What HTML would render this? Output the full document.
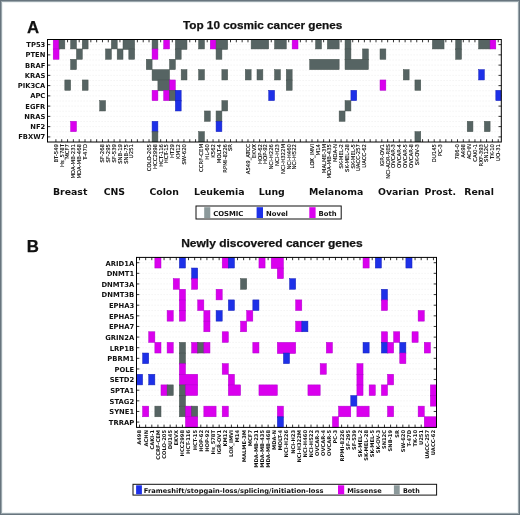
<!DOCTYPE html>
<html><head><meta charset="utf-8"><title>Cancer genes heatmap</title>
<style>html,body{margin:0;padding:0;background:#fff;}body{width:520px;height:515px;overflow:hidden;}svg{display:block;}</style></head><body>
<svg width="520" height="515" viewBox="0 0 520 515">
<rect x="0" y="0" width="520" height="515" fill="#ffffff"/>
<g stroke="#eeeeee" stroke-width="0.8" stroke-dasharray="1.2 1.8"><line x1="47.5" y1="39.5" x2="501.3" y2="39.5"/><line x1="47.5" y1="44.62" x2="501.3" y2="44.62"/><line x1="47.5" y1="49.75" x2="501.3" y2="49.75"/><line x1="47.5" y1="54.88" x2="501.3" y2="54.88"/><line x1="47.5" y1="60" x2="501.3" y2="60"/><line x1="47.5" y1="65.12" x2="501.3" y2="65.12"/><line x1="47.5" y1="70.25" x2="501.3" y2="70.25"/><line x1="47.5" y1="75.38" x2="501.3" y2="75.38"/><line x1="47.5" y1="80.5" x2="501.3" y2="80.5"/><line x1="47.5" y1="85.62" x2="501.3" y2="85.62"/><line x1="47.5" y1="90.75" x2="501.3" y2="90.75"/><line x1="47.5" y1="95.88" x2="501.3" y2="95.88"/><line x1="47.5" y1="101" x2="501.3" y2="101"/><line x1="47.5" y1="106.12" x2="501.3" y2="106.12"/><line x1="47.5" y1="111.25" x2="501.3" y2="111.25"/><line x1="47.5" y1="116.38" x2="501.3" y2="116.38"/><line x1="47.5" y1="121.5" x2="501.3" y2="121.5"/><line x1="47.5" y1="126.62" x2="501.3" y2="126.62"/><line x1="47.5" y1="131.75" x2="501.3" y2="131.75"/><line x1="47.5" y1="136.88" x2="501.3" y2="136.88"/><line x1="47.5" y1="142" x2="501.3" y2="142"/></g>
<g stroke="#eeeeee" stroke-width="0.8" stroke-dasharray="1.2 1.8"><line x1="136.5" y1="257.4" x2="436.5" y2="257.4"/><line x1="136.5" y1="262.71" x2="436.5" y2="262.71"/><line x1="136.5" y1="268.02" x2="436.5" y2="268.02"/><line x1="136.5" y1="273.34" x2="436.5" y2="273.34"/><line x1="136.5" y1="278.65" x2="436.5" y2="278.65"/><line x1="136.5" y1="283.96" x2="436.5" y2="283.96"/><line x1="136.5" y1="289.27" x2="436.5" y2="289.27"/><line x1="136.5" y1="294.59" x2="436.5" y2="294.59"/><line x1="136.5" y1="299.9" x2="436.5" y2="299.9"/><line x1="136.5" y1="305.21" x2="436.5" y2="305.21"/><line x1="136.5" y1="310.52" x2="436.5" y2="310.52"/><line x1="136.5" y1="315.84" x2="436.5" y2="315.84"/><line x1="136.5" y1="321.15" x2="436.5" y2="321.15"/><line x1="136.5" y1="326.46" x2="436.5" y2="326.46"/><line x1="136.5" y1="331.77" x2="436.5" y2="331.77"/><line x1="136.5" y1="337.09" x2="436.5" y2="337.09"/><line x1="136.5" y1="342.4" x2="436.5" y2="342.4"/><line x1="136.5" y1="347.71" x2="436.5" y2="347.71"/><line x1="136.5" y1="353.02" x2="436.5" y2="353.02"/><line x1="136.5" y1="358.34" x2="436.5" y2="358.34"/><line x1="136.5" y1="363.65" x2="436.5" y2="363.65"/><line x1="136.5" y1="368.96" x2="436.5" y2="368.96"/><line x1="136.5" y1="374.27" x2="436.5" y2="374.27"/><line x1="136.5" y1="379.59" x2="436.5" y2="379.59"/><line x1="136.5" y1="384.9" x2="436.5" y2="384.9"/><line x1="136.5" y1="390.21" x2="436.5" y2="390.21"/><line x1="136.5" y1="395.52" x2="436.5" y2="395.52"/><line x1="136.5" y1="400.84" x2="436.5" y2="400.84"/><line x1="136.5" y1="406.15" x2="436.5" y2="406.15"/><line x1="136.5" y1="411.46" x2="436.5" y2="411.46"/><line x1="136.5" y1="416.77" x2="436.5" y2="416.77"/><line x1="136.5" y1="422.09" x2="436.5" y2="422.09"/><line x1="136.5" y1="427.4" x2="436.5" y2="427.4"/></g>
<path d="M55.91 39.5v2.8M55.91 142v-2.8M61.73 39.5v2.8M61.73 142v-2.8M67.55 39.5v2.8M67.55 142v-2.8M73.37 39.5v2.8M73.37 142v-2.8M79.19 39.5v2.8M79.19 142v-2.8M85.01 39.5v2.8M85.01 142v-2.8M90.83 39.5v2.8M90.83 142v-2.8M96.65 39.5v2.8M96.65 142v-2.8M102.47 39.5v2.8M102.47 142v-2.8M108.29 39.5v2.8M108.29 142v-2.8M114.11 39.5v2.8M114.11 142v-2.8M119.93 39.5v2.8M119.93 142v-2.8M125.75 39.5v2.8M125.75 142v-2.8M131.57 39.5v2.8M131.57 142v-2.8M137.39 39.5v2.8M137.39 142v-2.8M143.21 39.5v2.8M143.21 142v-2.8M149.03 39.5v2.8M149.03 142v-2.8M154.85 39.5v2.8M154.85 142v-2.8M160.67 39.5v2.8M160.67 142v-2.8M166.49 39.5v2.8M166.49 142v-2.8M172.31 39.5v2.8M172.31 142v-2.8M178.13 39.5v2.8M178.13 142v-2.8M183.95 39.5v2.8M183.95 142v-2.8M189.77 39.5v2.8M189.77 142v-2.8M195.59 39.5v2.8M195.59 142v-2.8M201.41 39.5v2.8M201.41 142v-2.8M207.23 39.5v2.8M207.23 142v-2.8M213.05 39.5v2.8M213.05 142v-2.8M218.87 39.5v2.8M218.87 142v-2.8M224.69 39.5v2.8M224.69 142v-2.8M230.51 39.5v2.8M230.51 142v-2.8M236.33 39.5v2.8M236.33 142v-2.8M242.15 39.5v2.8M242.15 142v-2.8M247.97 39.5v2.8M247.97 142v-2.8M253.79 39.5v2.8M253.79 142v-2.8M259.61 39.5v2.8M259.61 142v-2.8M265.43 39.5v2.8M265.43 142v-2.8M271.25 39.5v2.8M271.25 142v-2.8M277.07 39.5v2.8M277.07 142v-2.8M282.89 39.5v2.8M282.89 142v-2.8M288.71 39.5v2.8M288.71 142v-2.8M294.53 39.5v2.8M294.53 142v-2.8M300.35 39.5v2.8M300.35 142v-2.8M306.17 39.5v2.8M306.17 142v-2.8M311.99 39.5v2.8M311.99 142v-2.8M317.81 39.5v2.8M317.81 142v-2.8M323.63 39.5v2.8M323.63 142v-2.8M329.45 39.5v2.8M329.45 142v-2.8M335.27 39.5v2.8M335.27 142v-2.8M341.09 39.5v2.8M341.09 142v-2.8M346.91 39.5v2.8M346.91 142v-2.8M352.73 39.5v2.8M352.73 142v-2.8M358.55 39.5v2.8M358.55 142v-2.8M364.37 39.5v2.8M364.37 142v-2.8M370.19 39.5v2.8M370.19 142v-2.8M376.01 39.5v2.8M376.01 142v-2.8M381.83 39.5v2.8M381.83 142v-2.8M387.65 39.5v2.8M387.65 142v-2.8M393.47 39.5v2.8M393.47 142v-2.8M399.29 39.5v2.8M399.29 142v-2.8M405.11 39.5v2.8M405.11 142v-2.8M410.93 39.5v2.8M410.93 142v-2.8M416.75 39.5v2.8M416.75 142v-2.8M422.57 39.5v2.8M422.57 142v-2.8M428.39 39.5v2.8M428.39 142v-2.8M434.21 39.5v2.8M434.21 142v-2.8M440.03 39.5v2.8M440.03 142v-2.8M445.85 39.5v2.8M445.85 142v-2.8M451.67 39.5v2.8M451.67 142v-2.8M457.49 39.5v2.8M457.49 142v-2.8M463.31 39.5v2.8M463.31 142v-2.8M469.13 39.5v2.8M469.13 142v-2.8M474.95 39.5v2.8M474.95 142v-2.8M480.77 39.5v2.8M480.77 142v-2.8M486.59 39.5v2.8M486.59 142v-2.8M492.41 39.5v2.8M492.41 142v-2.8M498.23 39.5v2.8M498.23 142v-2.8M47.5 44.62h2.8M501.3 44.62h-2.8M47.5 54.88h2.8M501.3 54.88h-2.8M47.5 65.12h2.8M501.3 65.12h-2.8M47.5 75.38h2.8M501.3 75.38h-2.8M47.5 85.62h2.8M501.3 85.62h-2.8M47.5 95.88h2.8M501.3 95.88h-2.8M47.5 106.12h2.8M501.3 106.12h-2.8M47.5 116.38h2.8M501.3 116.38h-2.8M47.5 126.62h2.8M501.3 126.62h-2.8M47.5 136.88h2.8M501.3 136.88h-2.8" stroke="#111" stroke-width="0.85" fill="none"/>
<path d="M139.56 257.4v2.8M139.56 427.4v-2.8M145.68 257.4v2.8M145.68 427.4v-2.8M151.81 257.4v2.8M151.81 427.4v-2.8M157.93 257.4v2.8M157.93 427.4v-2.8M164.05 257.4v2.8M164.05 427.4v-2.8M170.17 257.4v2.8M170.17 427.4v-2.8M176.3 257.4v2.8M176.3 427.4v-2.8M182.42 257.4v2.8M182.42 427.4v-2.8M188.54 257.4v2.8M188.54 427.4v-2.8M194.66 257.4v2.8M194.66 427.4v-2.8M200.79 257.4v2.8M200.79 427.4v-2.8M206.91 257.4v2.8M206.91 427.4v-2.8M213.03 257.4v2.8M213.03 427.4v-2.8M219.15 257.4v2.8M219.15 427.4v-2.8M225.28 257.4v2.8M225.28 427.4v-2.8M231.4 257.4v2.8M231.4 427.4v-2.8M237.52 257.4v2.8M237.52 427.4v-2.8M243.64 257.4v2.8M243.64 427.4v-2.8M249.77 257.4v2.8M249.77 427.4v-2.8M255.89 257.4v2.8M255.89 427.4v-2.8M262.01 257.4v2.8M262.01 427.4v-2.8M268.13 257.4v2.8M268.13 427.4v-2.8M274.26 257.4v2.8M274.26 427.4v-2.8M280.38 257.4v2.8M280.38 427.4v-2.8M286.5 257.4v2.8M286.5 427.4v-2.8M292.62 257.4v2.8M292.62 427.4v-2.8M298.74 257.4v2.8M298.74 427.4v-2.8M304.87 257.4v2.8M304.87 427.4v-2.8M310.99 257.4v2.8M310.99 427.4v-2.8M317.11 257.4v2.8M317.11 427.4v-2.8M323.23 257.4v2.8M323.23 427.4v-2.8M329.36 257.4v2.8M329.36 427.4v-2.8M335.48 257.4v2.8M335.48 427.4v-2.8M341.6 257.4v2.8M341.6 427.4v-2.8M347.72 257.4v2.8M347.72 427.4v-2.8M353.85 257.4v2.8M353.85 427.4v-2.8M359.97 257.4v2.8M359.97 427.4v-2.8M366.09 257.4v2.8M366.09 427.4v-2.8M372.21 257.4v2.8M372.21 427.4v-2.8M378.34 257.4v2.8M378.34 427.4v-2.8M384.46 257.4v2.8M384.46 427.4v-2.8M390.58 257.4v2.8M390.58 427.4v-2.8M396.7 257.4v2.8M396.7 427.4v-2.8M402.83 257.4v2.8M402.83 427.4v-2.8M408.95 257.4v2.8M408.95 427.4v-2.8M415.07 257.4v2.8M415.07 427.4v-2.8M421.19 257.4v2.8M421.19 427.4v-2.8M427.32 257.4v2.8M427.32 427.4v-2.8M433.44 257.4v2.8M433.44 427.4v-2.8M136.5 262.71h2.8M436.5 262.71h-2.8M136.5 273.34h2.8M436.5 273.34h-2.8M136.5 283.96h2.8M436.5 283.96h-2.8M136.5 294.59h2.8M436.5 294.59h-2.8M136.5 305.21h2.8M436.5 305.21h-2.8M136.5 315.84h2.8M436.5 315.84h-2.8M136.5 326.46h2.8M436.5 326.46h-2.8M136.5 337.09h2.8M436.5 337.09h-2.8M136.5 347.71h2.8M436.5 347.71h-2.8M136.5 358.34h2.8M436.5 358.34h-2.8M136.5 368.96h2.8M436.5 368.96h-2.8M136.5 379.59h2.8M436.5 379.59h-2.8M136.5 390.21h2.8M436.5 390.21h-2.8M136.5 400.84h2.8M436.5 400.84h-2.8M136.5 411.46h2.8M436.5 411.46h-2.8M136.5 422.09h2.8M436.5 422.09h-2.8" stroke="#111" stroke-width="0.85" fill="none"/>
<defs><clipPath id="ca"><rect x="47.5" y="39.5" width="453.8" height="102.5"/></clipPath></defs>
<g clip-path="url(#ca)">
<rect x="53.2" y="38.6" width="6.32" height="10.84" fill="#da00ee" stroke="#b000cc" stroke-width="0.5"/>
<rect x="59.02" y="38.6" width="5.82" height="10.34" fill="#566463" stroke="#46524f" stroke-width="0.5"/>
<rect x="70.65" y="38.6" width="5.82" height="10.34" fill="#566463" stroke="#46524f" stroke-width="0.5"/>
<rect x="82.28" y="38.6" width="5.82" height="10.34" fill="#566463" stroke="#46524f" stroke-width="0.5"/>
<rect x="111.37" y="38.6" width="5.82" height="10.34" fill="#566463" stroke="#46524f" stroke-width="0.5"/>
<rect x="123" y="38.6" width="11.63" height="10.84" fill="#566463" stroke="#46524f" stroke-width="0.5"/>
<rect x="152.08" y="38.6" width="5.82" height="10.84" fill="#566463" stroke="#46524f" stroke-width="0.5"/>
<rect x="163.72" y="38.6" width="5.82" height="10.34" fill="#da00ee" stroke="#b000cc" stroke-width="0.5"/>
<rect x="175.35" y="38.6" width="11.63" height="10.84" fill="#566463" stroke="#46524f" stroke-width="0.5"/>
<rect x="198.62" y="38.6" width="5.82" height="10.34" fill="#566463" stroke="#46524f" stroke-width="0.5"/>
<rect x="210.25" y="38.6" width="6.32" height="10.34" fill="#da00ee" stroke="#b000cc" stroke-width="0.5"/>
<rect x="216.07" y="38.6" width="11.63" height="10.84" fill="#566463" stroke="#46524f" stroke-width="0.5"/>
<rect x="251.14" y="38.6" width="17.58" height="10.34" fill="#566463" stroke="#46524f" stroke-width="0.5"/>
<rect x="274.57" y="38.6" width="11.72" height="10.34" fill="#566463" stroke="#46524f" stroke-width="0.5"/>
<rect x="292.15" y="38.6" width="5.86" height="10.34" fill="#da00ee" stroke="#b000cc" stroke-width="0.5"/>
<rect x="315.61" y="38.6" width="5.88" height="10.34" fill="#566463" stroke="#46524f" stroke-width="0.5"/>
<rect x="327.38" y="38.6" width="11.77" height="10.34" fill="#566463" stroke="#46524f" stroke-width="0.5"/>
<rect x="345.04" y="38.6" width="5.88" height="10.84" fill="#566463" stroke="#46524f" stroke-width="0.5"/>
<rect x="432.4" y="38.6" width="11.64" height="10.34" fill="#566463" stroke="#46524f" stroke-width="0.5"/>
<rect x="455.68" y="38.6" width="5.82" height="10.84" fill="#566463" stroke="#46524f" stroke-width="0.5"/>
<rect x="478.66" y="38.6" width="11.94" height="10.34" fill="#566463" stroke="#46524f" stroke-width="0.5"/>
<rect x="490.1" y="38.6" width="5.72" height="10.34" fill="#da00ee" stroke="#b000cc" stroke-width="0.5"/>
<rect x="53.2" y="48.94" width="5.82" height="10.34" fill="#da00ee" stroke="#b000cc" stroke-width="0.5"/>
<rect x="76.47" y="48.94" width="5.82" height="10.34" fill="#566463" stroke="#46524f" stroke-width="0.5"/>
<rect x="105.55" y="48.94" width="5.82" height="10.34" fill="#566463" stroke="#46524f" stroke-width="0.5"/>
<rect x="117.18" y="48.94" width="5.82" height="10.34" fill="#566463" stroke="#46524f" stroke-width="0.5"/>
<rect x="128.82" y="48.94" width="5.82" height="10.34" fill="#566463" stroke="#46524f" stroke-width="0.5"/>
<rect x="152.08" y="48.94" width="5.82" height="10.34" fill="#da00ee" stroke="#b000cc" stroke-width="0.5"/>
<rect x="175.35" y="48.94" width="5.82" height="10.34" fill="#566463" stroke="#46524f" stroke-width="0.5"/>
<rect x="216.07" y="48.94" width="5.82" height="10.34" fill="#566463" stroke="#46524f" stroke-width="0.5"/>
<rect x="345.04" y="48.94" width="5.88" height="10.84" fill="#566463" stroke="#46524f" stroke-width="0.5"/>
<rect x="362.56" y="48.94" width="5.82" height="10.84" fill="#566463" stroke="#46524f" stroke-width="0.5"/>
<rect x="380.02" y="48.94" width="5.82" height="10.34" fill="#566463" stroke="#46524f" stroke-width="0.5"/>
<rect x="455.68" y="48.94" width="5.82" height="10.34" fill="#566463" stroke="#46524f" stroke-width="0.5"/>
<rect x="70.65" y="59.28" width="5.82" height="10.34" fill="#566463" stroke="#46524f" stroke-width="0.5"/>
<rect x="146.27" y="59.28" width="5.82" height="10.34" fill="#566463" stroke="#46524f" stroke-width="0.5"/>
<rect x="169.53" y="59.28" width="5.82" height="10.34" fill="#566463" stroke="#46524f" stroke-width="0.5"/>
<rect x="309.73" y="59.28" width="29.42" height="10.34" fill="#566463" stroke="#46524f" stroke-width="0.5"/>
<rect x="345.04" y="59.28" width="23.34" height="10.34" fill="#566463" stroke="#46524f" stroke-width="0.5"/>
<rect x="152.08" y="69.62" width="17.45" height="10.84" fill="#566463" stroke="#46524f" stroke-width="0.5"/>
<rect x="181.17" y="69.62" width="5.82" height="10.34" fill="#566463" stroke="#46524f" stroke-width="0.5"/>
<rect x="198.62" y="69.62" width="5.82" height="10.34" fill="#566463" stroke="#46524f" stroke-width="0.5"/>
<rect x="221.88" y="69.62" width="5.82" height="10.34" fill="#566463" stroke="#46524f" stroke-width="0.5"/>
<rect x="245.28" y="69.62" width="5.86" height="10.34" fill="#566463" stroke="#46524f" stroke-width="0.5"/>
<rect x="257" y="69.62" width="5.86" height="10.34" fill="#566463" stroke="#46524f" stroke-width="0.5"/>
<rect x="274.57" y="69.62" width="5.86" height="10.34" fill="#566463" stroke="#46524f" stroke-width="0.5"/>
<rect x="286.29" y="69.62" width="5.86" height="10.84" fill="#566463" stroke="#46524f" stroke-width="0.5"/>
<rect x="403.3" y="69.62" width="5.82" height="10.34" fill="#566463" stroke="#46524f" stroke-width="0.5"/>
<rect x="478.66" y="69.62" width="5.72" height="10.34" fill="#1d30e8" stroke="#1822b8" stroke-width="0.5"/>
<rect x="64.83" y="79.96" width="5.82" height="10.34" fill="#566463" stroke="#46524f" stroke-width="0.5"/>
<rect x="82.28" y="79.96" width="5.82" height="10.34" fill="#566463" stroke="#46524f" stroke-width="0.5"/>
<rect x="157.9" y="79.96" width="12.13" height="10.84" fill="#566463" stroke="#46524f" stroke-width="0.5"/>
<rect x="169.53" y="79.96" width="5.82" height="10.84" fill="#da00ee" stroke="#b000cc" stroke-width="0.5"/>
<rect x="286.29" y="79.96" width="5.86" height="10.34" fill="#566463" stroke="#46524f" stroke-width="0.5"/>
<rect x="380.02" y="79.96" width="5.82" height="10.34" fill="#da00ee" stroke="#b000cc" stroke-width="0.5"/>
<rect x="414.94" y="79.96" width="5.82" height="10.34" fill="#566463" stroke="#46524f" stroke-width="0.5"/>
<rect x="152.08" y="90.3" width="5.82" height="10.34" fill="#da00ee" stroke="#b000cc" stroke-width="0.5"/>
<rect x="163.72" y="90.3" width="6.32" height="10.34" fill="#da00ee" stroke="#b000cc" stroke-width="0.5"/>
<rect x="169.53" y="90.3" width="6.32" height="10.34" fill="#566463" stroke="#46524f" stroke-width="0.5"/>
<rect x="175.35" y="90.3" width="5.82" height="10.84" fill="#1d30e8" stroke="#1822b8" stroke-width="0.5"/>
<rect x="268.72" y="90.3" width="5.86" height="10.34" fill="#1d30e8" stroke="#1822b8" stroke-width="0.5"/>
<rect x="350.92" y="90.3" width="5.82" height="10.34" fill="#1d30e8" stroke="#1822b8" stroke-width="0.5"/>
<rect x="495.82" y="90.3" width="5.72" height="10.34" fill="#1d30e8" stroke="#1822b8" stroke-width="0.5"/>
<rect x="99.73" y="100.64" width="5.82" height="10.34" fill="#566463" stroke="#46524f" stroke-width="0.5"/>
<rect x="175.35" y="100.64" width="5.82" height="10.34" fill="#1d30e8" stroke="#1822b8" stroke-width="0.5"/>
<rect x="221.88" y="100.64" width="5.82" height="10.34" fill="#566463" stroke="#46524f" stroke-width="0.5"/>
<rect x="345.04" y="100.64" width="5.88" height="10.34" fill="#566463" stroke="#46524f" stroke-width="0.5"/>
<rect x="204.43" y="110.98" width="5.82" height="10.34" fill="#566463" stroke="#46524f" stroke-width="0.5"/>
<rect x="216.07" y="110.98" width="5.82" height="10.84" fill="#566463" stroke="#46524f" stroke-width="0.5"/>
<rect x="339.15" y="110.98" width="5.88" height="10.34" fill="#566463" stroke="#46524f" stroke-width="0.5"/>
<rect x="70.65" y="121.32" width="5.82" height="10.34" fill="#da00ee" stroke="#b000cc" stroke-width="0.5"/>
<rect x="152.08" y="121.32" width="5.82" height="10.84" fill="#1d30e8" stroke="#1822b8" stroke-width="0.5"/>
<rect x="216.07" y="121.32" width="5.82" height="10.34" fill="#1d30e8" stroke="#1822b8" stroke-width="0.5"/>
<rect x="467.22" y="121.32" width="5.72" height="10.34" fill="#566463" stroke="#46524f" stroke-width="0.5"/>
<rect x="484.38" y="121.32" width="5.72" height="10.34" fill="#566463" stroke="#46524f" stroke-width="0.5"/>
<rect x="152.08" y="131.66" width="5.82" height="10.34" fill="#566463" stroke="#46524f" stroke-width="0.5"/>
<rect x="198.62" y="131.66" width="5.82" height="10.34" fill="#566463" stroke="#46524f" stroke-width="0.5"/>
<rect x="414.94" y="131.66" width="5.82" height="10.34" fill="#566463" stroke="#46524f" stroke-width="0.5"/>
</g>
<rect x="154.87" y="257.4" width="6.12" height="10.62" fill="#da00ee" stroke="#b000cc" stroke-width="0.5"/>
<rect x="179.36" y="257.4" width="6.12" height="10.62" fill="#1d30e8" stroke="#1822b8" stroke-width="0.5"/>
<rect x="222.21" y="257.4" width="6.62" height="10.62" fill="#da00ee" stroke="#b000cc" stroke-width="0.5"/>
<rect x="228.34" y="257.4" width="6.12" height="10.62" fill="#1d30e8" stroke="#1822b8" stroke-width="0.5"/>
<rect x="258.95" y="257.4" width="6.12" height="10.62" fill="#da00ee" stroke="#b000cc" stroke-width="0.5"/>
<rect x="271.19" y="257.4" width="12.24" height="11.12" fill="#da00ee" stroke="#b000cc" stroke-width="0.5"/>
<rect x="363.03" y="257.4" width="6.12" height="10.62" fill="#da00ee" stroke="#b000cc" stroke-width="0.5"/>
<rect x="375.28" y="257.4" width="6.12" height="10.62" fill="#1d30e8" stroke="#1822b8" stroke-width="0.5"/>
<rect x="405.89" y="257.4" width="6.12" height="10.62" fill="#1d30e8" stroke="#1822b8" stroke-width="0.5"/>
<rect x="191.6" y="268.02" width="6.12" height="11.12" fill="#1d30e8" stroke="#1822b8" stroke-width="0.5"/>
<rect x="277.32" y="268.02" width="6.12" height="10.62" fill="#da00ee" stroke="#b000cc" stroke-width="0.5"/>
<rect x="173.23" y="278.65" width="6.12" height="10.62" fill="#da00ee" stroke="#b000cc" stroke-width="0.5"/>
<rect x="191.6" y="278.65" width="6.12" height="10.62" fill="#da00ee" stroke="#b000cc" stroke-width="0.5"/>
<rect x="240.58" y="278.65" width="6.12" height="10.62" fill="#566463" stroke="#46524f" stroke-width="0.5"/>
<rect x="289.56" y="278.65" width="6.12" height="10.62" fill="#1d30e8" stroke="#1822b8" stroke-width="0.5"/>
<rect x="179.36" y="289.27" width="6.12" height="11.12" fill="#da00ee" stroke="#b000cc" stroke-width="0.5"/>
<rect x="216.09" y="289.27" width="6.12" height="10.62" fill="#da00ee" stroke="#b000cc" stroke-width="0.5"/>
<rect x="381.4" y="289.27" width="6.12" height="11.12" fill="#1d30e8" stroke="#1822b8" stroke-width="0.5"/>
<rect x="179.36" y="299.9" width="6.12" height="11.12" fill="#da00ee" stroke="#b000cc" stroke-width="0.5"/>
<rect x="197.72" y="299.9" width="6.12" height="10.62" fill="#da00ee" stroke="#b000cc" stroke-width="0.5"/>
<rect x="228.34" y="299.9" width="6.12" height="10.62" fill="#1d30e8" stroke="#1822b8" stroke-width="0.5"/>
<rect x="252.83" y="299.9" width="6.12" height="10.62" fill="#1d30e8" stroke="#1822b8" stroke-width="0.5"/>
<rect x="295.68" y="299.9" width="6.12" height="10.62" fill="#da00ee" stroke="#b000cc" stroke-width="0.5"/>
<rect x="381.4" y="299.9" width="6.12" height="10.62" fill="#da00ee" stroke="#b000cc" stroke-width="0.5"/>
<rect x="167.11" y="310.52" width="6.12" height="10.62" fill="#da00ee" stroke="#b000cc" stroke-width="0.5"/>
<rect x="179.36" y="310.52" width="6.12" height="10.62" fill="#da00ee" stroke="#b000cc" stroke-width="0.5"/>
<rect x="203.85" y="310.52" width="6.12" height="11.12" fill="#da00ee" stroke="#b000cc" stroke-width="0.5"/>
<rect x="216.09" y="310.52" width="6.12" height="10.62" fill="#1d30e8" stroke="#1822b8" stroke-width="0.5"/>
<rect x="246.7" y="310.52" width="6.12" height="10.62" fill="#da00ee" stroke="#b000cc" stroke-width="0.5"/>
<rect x="418.13" y="310.52" width="6.12" height="10.62" fill="#da00ee" stroke="#b000cc" stroke-width="0.5"/>
<rect x="203.85" y="321.15" width="6.12" height="10.62" fill="#da00ee" stroke="#b000cc" stroke-width="0.5"/>
<rect x="240.58" y="321.15" width="6.12" height="10.62" fill="#da00ee" stroke="#b000cc" stroke-width="0.5"/>
<rect x="295.68" y="321.15" width="6.62" height="10.62" fill="#da00ee" stroke="#b000cc" stroke-width="0.5"/>
<rect x="301.81" y="321.15" width="6.12" height="10.62" fill="#1d30e8" stroke="#1822b8" stroke-width="0.5"/>
<rect x="148.74" y="331.77" width="6.12" height="10.62" fill="#da00ee" stroke="#b000cc" stroke-width="0.5"/>
<rect x="222.21" y="331.77" width="6.12" height="10.62" fill="#da00ee" stroke="#b000cc" stroke-width="0.5"/>
<rect x="381.4" y="331.77" width="6.12" height="11.12" fill="#da00ee" stroke="#b000cc" stroke-width="0.5"/>
<rect x="393.64" y="331.77" width="6.12" height="10.62" fill="#da00ee" stroke="#b000cc" stroke-width="0.5"/>
<rect x="412.01" y="331.77" width="6.12" height="10.62" fill="#da00ee" stroke="#b000cc" stroke-width="0.5"/>
<rect x="154.87" y="342.4" width="6.12" height="10.62" fill="#da00ee" stroke="#b000cc" stroke-width="0.5"/>
<rect x="167.11" y="342.4" width="6.12" height="10.62" fill="#da00ee" stroke="#b000cc" stroke-width="0.5"/>
<rect x="179.36" y="342.4" width="6.12" height="11.12" fill="#566463" stroke="#46524f" stroke-width="0.5"/>
<rect x="191.6" y="342.4" width="6.62" height="10.62" fill="#da00ee" stroke="#b000cc" stroke-width="0.5"/>
<rect x="197.72" y="342.4" width="6.62" height="10.62" fill="#566463" stroke="#46524f" stroke-width="0.5"/>
<rect x="203.85" y="342.4" width="6.12" height="10.62" fill="#da00ee" stroke="#b000cc" stroke-width="0.5"/>
<rect x="252.83" y="342.4" width="6.12" height="10.62" fill="#da00ee" stroke="#b000cc" stroke-width="0.5"/>
<rect x="277.32" y="342.4" width="18.37" height="11.12" fill="#da00ee" stroke="#b000cc" stroke-width="0.5"/>
<rect x="326.3" y="342.4" width="6.12" height="10.62" fill="#da00ee" stroke="#b000cc" stroke-width="0.5"/>
<rect x="363.03" y="342.4" width="6.12" height="10.62" fill="#1d30e8" stroke="#1822b8" stroke-width="0.5"/>
<rect x="381.4" y="342.4" width="6.62" height="10.62" fill="#1d30e8" stroke="#1822b8" stroke-width="0.5"/>
<rect x="387.52" y="342.4" width="6.12" height="10.62" fill="#da00ee" stroke="#b000cc" stroke-width="0.5"/>
<rect x="399.77" y="342.4" width="6.12" height="11.12" fill="#1d30e8" stroke="#1822b8" stroke-width="0.5"/>
<rect x="424.26" y="342.4" width="6.12" height="10.62" fill="#da00ee" stroke="#b000cc" stroke-width="0.5"/>
<rect x="142.62" y="353.02" width="6.12" height="10.62" fill="#1d30e8" stroke="#1822b8" stroke-width="0.5"/>
<rect x="179.36" y="353.02" width="6.12" height="11.12" fill="#566463" stroke="#46524f" stroke-width="0.5"/>
<rect x="283.44" y="353.02" width="6.12" height="10.62" fill="#1d30e8" stroke="#1822b8" stroke-width="0.5"/>
<rect x="399.77" y="353.02" width="6.12" height="10.62" fill="#da00ee" stroke="#b000cc" stroke-width="0.5"/>
<rect x="179.36" y="363.65" width="6.12" height="11.12" fill="#da00ee" stroke="#b000cc" stroke-width="0.5"/>
<rect x="222.21" y="363.65" width="6.12" height="10.62" fill="#da00ee" stroke="#b000cc" stroke-width="0.5"/>
<rect x="320.17" y="363.65" width="6.12" height="10.62" fill="#da00ee" stroke="#b000cc" stroke-width="0.5"/>
<rect x="356.91" y="363.65" width="6.12" height="11.12" fill="#da00ee" stroke="#b000cc" stroke-width="0.5"/>
<rect x="136.5" y="374.27" width="6.12" height="10.62" fill="#1d30e8" stroke="#1822b8" stroke-width="0.5"/>
<rect x="148.74" y="374.27" width="6.12" height="10.62" fill="#1d30e8" stroke="#1822b8" stroke-width="0.5"/>
<rect x="179.36" y="374.27" width="18.37" height="11.12" fill="#da00ee" stroke="#b000cc" stroke-width="0.5"/>
<rect x="228.34" y="374.27" width="6.12" height="11.12" fill="#da00ee" stroke="#b000cc" stroke-width="0.5"/>
<rect x="356.91" y="374.27" width="6.12" height="11.12" fill="#da00ee" stroke="#b000cc" stroke-width="0.5"/>
<rect x="387.52" y="374.27" width="6.12" height="10.62" fill="#da00ee" stroke="#b000cc" stroke-width="0.5"/>
<rect x="160.99" y="384.9" width="6.62" height="10.62" fill="#da00ee" stroke="#b000cc" stroke-width="0.5"/>
<rect x="167.11" y="384.9" width="6.12" height="10.62" fill="#566463" stroke="#46524f" stroke-width="0.5"/>
<rect x="179.36" y="384.9" width="6.62" height="11.12" fill="#566463" stroke="#46524f" stroke-width="0.5"/>
<rect x="185.48" y="384.9" width="12.24" height="10.62" fill="#da00ee" stroke="#b000cc" stroke-width="0.5"/>
<rect x="228.34" y="384.9" width="12.24" height="10.62" fill="#da00ee" stroke="#b000cc" stroke-width="0.5"/>
<rect x="258.95" y="384.9" width="18.37" height="10.62" fill="#da00ee" stroke="#b000cc" stroke-width="0.5"/>
<rect x="307.93" y="384.9" width="12.24" height="10.62" fill="#da00ee" stroke="#b000cc" stroke-width="0.5"/>
<rect x="356.91" y="384.9" width="6.12" height="10.62" fill="#da00ee" stroke="#b000cc" stroke-width="0.5"/>
<rect x="369.15" y="384.9" width="6.12" height="10.62" fill="#da00ee" stroke="#b000cc" stroke-width="0.5"/>
<rect x="381.4" y="384.9" width="6.12" height="10.62" fill="#da00ee" stroke="#b000cc" stroke-width="0.5"/>
<rect x="430.38" y="384.9" width="6.12" height="11.12" fill="#da00ee" stroke="#b000cc" stroke-width="0.5"/>
<rect x="179.36" y="395.52" width="6.12" height="11.12" fill="#566463" stroke="#46524f" stroke-width="0.5"/>
<rect x="350.79" y="395.52" width="6.12" height="10.62" fill="#1d30e8" stroke="#1822b8" stroke-width="0.5"/>
<rect x="430.38" y="395.52" width="6.12" height="10.62" fill="#da00ee" stroke="#b000cc" stroke-width="0.5"/>
<rect x="142.62" y="406.15" width="6.12" height="10.62" fill="#da00ee" stroke="#b000cc" stroke-width="0.5"/>
<rect x="154.87" y="406.15" width="6.12" height="10.62" fill="#566463" stroke="#46524f" stroke-width="0.5"/>
<rect x="179.36" y="406.15" width="6.62" height="10.62" fill="#566463" stroke="#46524f" stroke-width="0.5"/>
<rect x="185.48" y="406.15" width="6.62" height="11.12" fill="#da00ee" stroke="#b000cc" stroke-width="0.5"/>
<rect x="191.6" y="406.15" width="6.12" height="11.12" fill="#566463" stroke="#46524f" stroke-width="0.5"/>
<rect x="203.85" y="406.15" width="12.24" height="10.62" fill="#da00ee" stroke="#b000cc" stroke-width="0.5"/>
<rect x="222.21" y="406.15" width="6.12" height="10.62" fill="#da00ee" stroke="#b000cc" stroke-width="0.5"/>
<rect x="277.32" y="406.15" width="6.12" height="11.12" fill="#da00ee" stroke="#b000cc" stroke-width="0.5"/>
<rect x="338.54" y="406.15" width="12.24" height="10.62" fill="#da00ee" stroke="#b000cc" stroke-width="0.5"/>
<rect x="356.91" y="406.15" width="12.24" height="10.62" fill="#da00ee" stroke="#b000cc" stroke-width="0.5"/>
<rect x="387.52" y="406.15" width="6.12" height="10.62" fill="#da00ee" stroke="#b000cc" stroke-width="0.5"/>
<rect x="418.13" y="406.15" width="6.12" height="10.62" fill="#da00ee" stroke="#b000cc" stroke-width="0.5"/>
<rect x="185.48" y="416.77" width="12.24" height="10.62" fill="#da00ee" stroke="#b000cc" stroke-width="0.5"/>
<rect x="277.32" y="416.77" width="6.12" height="10.62" fill="#1d30e8" stroke="#1822b8" stroke-width="0.5"/>
<rect x="332.42" y="416.77" width="6.12" height="10.62" fill="#da00ee" stroke="#b000cc" stroke-width="0.5"/>
<rect x="424.26" y="416.77" width="12.24" height="10.62" fill="#da00ee" stroke="#b000cc" stroke-width="0.5"/>
<rect x="47.5" y="39.5" width="453.8" height="102.5" fill="none" stroke="#000" stroke-width="1"/>
<rect x="136.5" y="257.4" width="300" height="170" fill="none" stroke="#000" stroke-width="1"/>
<g style="font-family:'DejaVu Sans',sans-serif;font-weight:bold;font-size:6.75px" text-anchor="end" fill="#111">
<text x="45.3" y="47.02">TP53</text>
<text x="45.3" y="57.27">PTEN</text>
<text x="45.3" y="67.53">BRAF</text>
<text x="45.3" y="77.78">KRAS</text>
<text x="45.3" y="88.03">PIK3CA</text>
<text x="45.3" y="98.28">APC</text>
<text x="45.3" y="108.53">EGFR</text>
<text x="45.3" y="118.78">NRAS</text>
<text x="45.3" y="129.03">NF2</text>
<text x="45.3" y="139.28">FBXW7</text>
</g>
<g style="font-family:'DejaVu Sans',sans-serif;font-weight:bold;font-size:6.8px" text-anchor="end" fill="#111">
<text x="134.2" y="265.51">ARID1A</text>
<text x="134.2" y="276.14">DNMT1</text>
<text x="134.2" y="286.76">DNMT3A</text>
<text x="134.2" y="297.39">DNMT3B</text>
<text x="134.2" y="308.01">EPHA3</text>
<text x="134.2" y="318.64">EPHA5</text>
<text x="134.2" y="329.26">EPHA7</text>
<text x="134.2" y="339.89">GRIN2A</text>
<text x="134.2" y="350.51">LRP1B</text>
<text x="134.2" y="361.14">PBRM1</text>
<text x="134.2" y="371.76">POLE</text>
<text x="134.2" y="382.39">SETD2</text>
<text x="134.2" y="393.01">SPTA1</text>
<text x="134.2" y="403.64">STAG2</text>
<text x="134.2" y="414.26">SYNE1</text>
<text x="134.2" y="424.89">TRRAP</text>
</g>
<g style="font-family:'DejaVu Sans',sans-serif;font-size:5.35px" text-anchor="end" fill="#000" stroke="#000" stroke-width="0.12">
<text transform="translate(57.81 144) rotate(-90)">BT-549</text>
<text transform="translate(63.63 144) rotate(-90)">Hs_578T</text>
<text transform="translate(69.45 144) rotate(-90)">MCF7</text>
<text transform="translate(75.27 144) rotate(-90)">MDA-MB-231</text>
<text transform="translate(81.09 144) rotate(-90)">MDA-MB-468</text>
<text transform="translate(86.91 144) rotate(-90)">T-47D</text>
<text transform="translate(104.37 144) rotate(-90)">SF-268</text>
<text transform="translate(110.19 144) rotate(-90)">SF-295</text>
<text transform="translate(116.01 144) rotate(-90)">SF-539</text>
<text transform="translate(121.83 144) rotate(-90)">SNB-19</text>
<text transform="translate(127.65 144) rotate(-90)">SNB-75</text>
<text transform="translate(133.47 144) rotate(-90)">U251</text>
<text transform="translate(150.93 144) rotate(-90)">COLO-205</text>
<text transform="translate(156.75 144) rotate(-90)">HCC2998</text>
<text transform="translate(162.57 144) rotate(-90)">HCT-116</text>
<text transform="translate(168.39 144) rotate(-90)">HCT-15</text>
<text transform="translate(174.21 144) rotate(-90)">HT29</text>
<text transform="translate(180.03 144) rotate(-90)">KM12</text>
<text transform="translate(185.85 144) rotate(-90)">SW-620</text>
<text transform="translate(203.31 144) rotate(-90)">CCRF-CEM</text>
<text transform="translate(209.13 144) rotate(-90)">HL-60</text>
<text transform="translate(214.95 144) rotate(-90)">K562</text>
<text transform="translate(220.77 144) rotate(-90)">MOLT-4</text>
<text transform="translate(226.59 144) rotate(-90)">RPMI-8226</text>
<text transform="translate(232.41 144) rotate(-90)">SR</text>
<text transform="translate(249.87 144) rotate(-90)">A549_ATCC</text>
<text transform="translate(255.69 144) rotate(-90)">EKVX</text>
<text transform="translate(261.51 144) rotate(-90)">HOP-62</text>
<text transform="translate(267.33 144) rotate(-90)">HOP-92</text>
<text transform="translate(273.15 144) rotate(-90)">NCI-H226</text>
<text transform="translate(278.97 144) rotate(-90)">NCI-H23</text>
<text transform="translate(284.79 144) rotate(-90)">NCI-H322M</text>
<text transform="translate(290.61 144) rotate(-90)">NCI-H460</text>
<text transform="translate(296.43 144) rotate(-90)">NCI-H522</text>
<text transform="translate(313.89 144) rotate(-90)">LOX_IMVI</text>
<text transform="translate(319.71 144) rotate(-90)">M14</text>
<text transform="translate(325.53 144) rotate(-90)">MALME-3M</text>
<text transform="translate(331.35 144) rotate(-90)">MDA-MB-435</text>
<text transform="translate(337.17 144) rotate(-90)">MDA-N</text>
<text transform="translate(342.99 144) rotate(-90)">SK-MEL-2</text>
<text transform="translate(348.81 144) rotate(-90)">SK-MEL-28</text>
<text transform="translate(354.63 144) rotate(-90)">SK-MEL-5</text>
<text transform="translate(360.45 144) rotate(-90)">UACC-257</text>
<text transform="translate(366.27 144) rotate(-90)">UACC-62</text>
<text transform="translate(383.73 144) rotate(-90)">IGR-OV1</text>
<text transform="translate(389.55 144) rotate(-90)">NCI-ADR-RES</text>
<text transform="translate(395.37 144) rotate(-90)">OVCAR-3</text>
<text transform="translate(401.19 144) rotate(-90)">OVCAR-4</text>
<text transform="translate(407.01 144) rotate(-90)">OVCAR-5</text>
<text transform="translate(412.83 144) rotate(-90)">OVCAR-8</text>
<text transform="translate(418.65 144) rotate(-90)">SK-OV-3</text>
<text transform="translate(436.11 144) rotate(-90)">DU145</text>
<text transform="translate(441.93 144) rotate(-90)">PC-3</text>
<text transform="translate(459.39 144) rotate(-90)">786-0</text>
<text transform="translate(465.21 144) rotate(-90)">A498</text>
<text transform="translate(471.03 144) rotate(-90)">ACHN</text>
<text transform="translate(476.85 144) rotate(-90)">CAKI-1</text>
<text transform="translate(482.67 144) rotate(-90)">RXF-393</text>
<text transform="translate(488.49 144) rotate(-90)">SN12C</text>
<text transform="translate(494.31 144) rotate(-90)">TK-10</text>
<text transform="translate(500.13 144) rotate(-90)">UO-31</text>
</g>
<g style="font-family:'DejaVu Sans',sans-serif;font-weight:bold;font-size:5.2px" text-anchor="end" fill="#111">
<text transform="translate(141.46 430) rotate(-90)">A498</text>
<text transform="translate(147.58 430) rotate(-90)">ACHN</text>
<text transform="translate(153.71 430) rotate(-90)">CAKI-1</text>
<text transform="translate(159.83 430) rotate(-90)">CCRF-CEM</text>
<text transform="translate(165.95 430) rotate(-90)">COLO-205</text>
<text transform="translate(172.07 430) rotate(-90)">DU145</text>
<text transform="translate(178.2 430) rotate(-90)">EKVX</text>
<text transform="translate(184.32 430) rotate(-90)">HCC2998</text>
<text transform="translate(190.44 430) rotate(-90)">HCT-116</text>
<text transform="translate(196.56 430) rotate(-90)">HCT-15</text>
<text transform="translate(202.69 430) rotate(-90)">HOP-62</text>
<text transform="translate(208.81 430) rotate(-90)">HOP-92</text>
<text transform="translate(214.93 430) rotate(-90)">Hs_578T</text>
<text transform="translate(221.05 430) rotate(-90)">IGR-OV1</text>
<text transform="translate(227.18 430) rotate(-90)">KM12</text>
<text transform="translate(233.3 430) rotate(-90)">LOX_IMVI</text>
<text transform="translate(239.42 430) rotate(-90)">M14</text>
<text transform="translate(245.54 430) rotate(-90)">MALME-3M</text>
<text transform="translate(251.67 430) rotate(-90)">MCF7</text>
<text transform="translate(257.79 430) rotate(-90)">MDA-MB-231</text>
<text transform="translate(263.91 430) rotate(-90)">MDA-MB-435</text>
<text transform="translate(270.03 430) rotate(-90)">MDA-MB-468</text>
<text transform="translate(276.16 430) rotate(-90)">MDA-N</text>
<text transform="translate(282.28 430) rotate(-90)">MOLT-4</text>
<text transform="translate(288.4 430) rotate(-90)">NCI-H226</text>
<text transform="translate(294.52 430) rotate(-90)">NCI-H23</text>
<text transform="translate(300.64 430) rotate(-90)">NCI-H322M</text>
<text transform="translate(306.77 430) rotate(-90)">NCI-H460</text>
<text transform="translate(312.89 430) rotate(-90)">NCI-H522</text>
<text transform="translate(319.01 430) rotate(-90)">OVCAR-3</text>
<text transform="translate(325.13 430) rotate(-90)">OVCAR-4</text>
<text transform="translate(331.26 430) rotate(-90)">OVCAR-5</text>
<text transform="translate(337.38 430) rotate(-90)">PC-3</text>
<text transform="translate(343.5 430) rotate(-90)">RPMI-8226</text>
<text transform="translate(349.62 430) rotate(-90)">SF-295</text>
<text transform="translate(355.75 430) rotate(-90)">SF-539</text>
<text transform="translate(361.87 430) rotate(-90)">SK-MEL-2</text>
<text transform="translate(367.99 430) rotate(-90)">SK-MEL-28</text>
<text transform="translate(374.11 430) rotate(-90)">SK-MEL-5</text>
<text transform="translate(380.24 430) rotate(-90)">SK-OV-3</text>
<text transform="translate(386.36 430) rotate(-90)">SN12C</text>
<text transform="translate(392.48 430) rotate(-90)">SNB-19</text>
<text transform="translate(398.6 430) rotate(-90)">SR</text>
<text transform="translate(404.73 430) rotate(-90)">SW-620</text>
<text transform="translate(410.85 430) rotate(-90)">T-47D</text>
<text transform="translate(416.97 430) rotate(-90)">TK-10</text>
<text transform="translate(423.09 430) rotate(-90)">U251</text>
<text transform="translate(429.22 430) rotate(-90)">UACC-257</text>
<text transform="translate(435.34 430) rotate(-90)">UACC-62</text>
</g>
<g style="font-family:'DejaVu Sans',sans-serif;font-weight:bold;font-size:9.35px" fill="#111">
<text x="53" y="194.6">Breast</text>
<text x="103.7" y="194.6">CNS</text>
<text x="149.4" y="194.6">Colon</text>
<text x="194" y="194.6">Leukemia</text>
<text x="258.8" y="194.6">Lung</text>
<text x="309" y="194.6">Melanoma</text>
<text x="378" y="194.6">Ovarian</text>
<text x="424.6" y="194.6">Prost.</text>
<text x="464.2" y="194.6">Renal</text>
</g>
<rect x="196" y="206" width="145.2" height="13" fill="#fff" stroke="#111" stroke-width="1"/>
<rect x="204.2" y="207.2" width="6.1" height="10.8" fill="#8c999b"/>
<rect x="256.6" y="207.2" width="6.4" height="10.8" fill="#1d30e8"/>
<rect x="309.3" y="207.2" width="6.3" height="10.8" fill="#da00ee"/>
<g style="font-family:'DejaVu Sans',sans-serif;font-weight:bold;font-size:6.85px" fill="#111">
<text x="213.2" y="215.8">COSMIC</text><text x="266.0" y="215.8">Novel</text><text x="318.6" y="215.8">Both</text>
</g>
<rect x="133" y="484.3" width="303.6" height="10.8" fill="#fff" stroke="#111" stroke-width="1"/>
<rect x="136.1" y="485.3" width="5.8" height="9" fill="#1d30e8"/>
<rect x="338" y="485.3" width="6.2" height="9" fill="#da00ee"/>
<rect x="393.9" y="485.3" width="5.8" height="9" fill="#8c999b"/>
<g style="font-family:'DejaVu Sans',sans-serif;font-weight:bold;font-size:6.5px" fill="#111">
<text x="143.8" y="492.9" textLength="179.6" lengthAdjust="spacingAndGlyphs">Frameshift/stopgain-loss/splicing/initiation-loss</text><text x="347.2" y="492.9" textLength="34.5" lengthAdjust="spacingAndGlyphs">Missense</text><text x="402.9" y="492.9" textLength="16.8" lengthAdjust="spacingAndGlyphs">Both</text>
</g>
<g style="font-family:'Liberation Sans',Arial,sans-serif;font-weight:bold" fill="#111" stroke="#111" stroke-width="0.25">
<text x="182.9" y="29.2" font-size="11.8" textLength="159.4" lengthAdjust="spacingAndGlyphs">Top 10 cosmic cancer genes</text>
<text x="181.2" y="247.3" font-size="11.6" textLength="181.4" lengthAdjust="spacingAndGlyphs">Newly discovered cancer genes</text>
<text x="27.1" y="32.8" font-size="16.8">A</text>
<text x="26.8" y="251.5" font-size="16.8">B</text>
</g>
<g fill="none" shape-rendering="crispEdges"><rect x="2.5" y="2.5" width="515" height="510" stroke="#eef2f3" stroke-width="1"/><rect x="1.5" y="1.5" width="517" height="512" stroke="#9aa6ac" stroke-width="1"/><rect x="0.5" y="0.5" width="519" height="514" stroke="#68757e" stroke-width="1"/></g>
</svg>
</body></html>
